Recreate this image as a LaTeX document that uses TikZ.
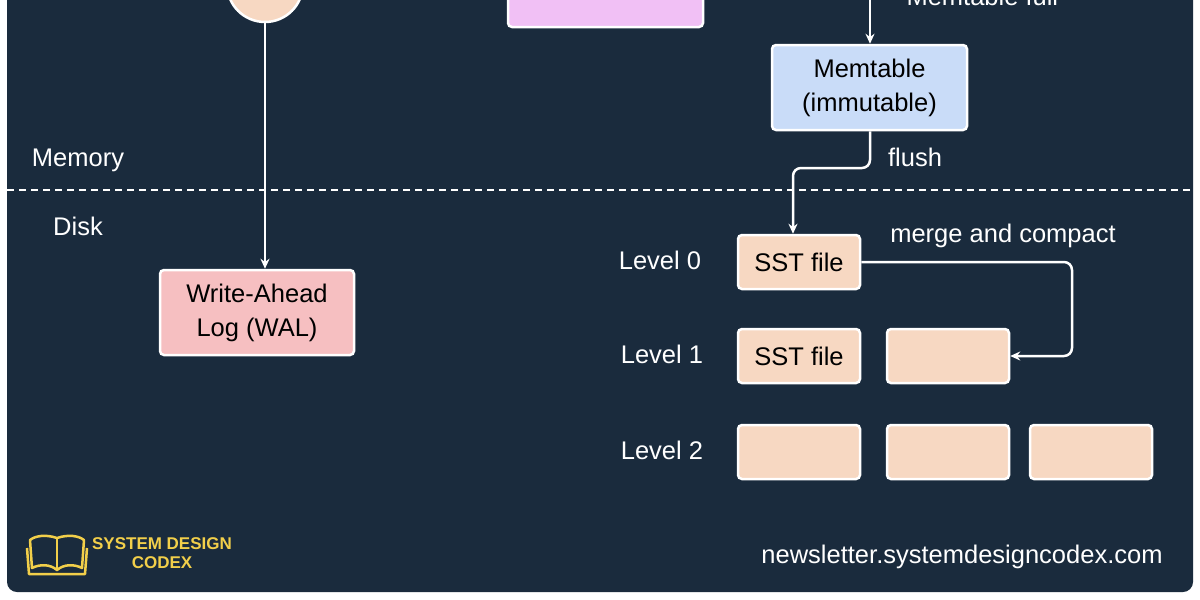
\documentclass[tikz,border=0pt]{standalone}
\usepackage{fontspec}
\setmainfont{Liberation Sans}
\usetikzlibrary{arrows.meta}
\definecolor{bg}{HTML}{1A2B3D}
\definecolor{peach}{HTML}{F7D8C2}
\definecolor{blu}{HTML}{C9DCF8}
\definecolor{pnk}{HTML}{F6BFC1}
\definecolor{vio}{HTML}{F1C0F5}
\definecolor{gold}{HTML}{F2CF4A}
\begin{document}
\begin{tikzpicture}[x=1pt,y=-1pt,
  box/.style={draw=white,line width=2.5pt,rounded corners=4pt,inner sep=0pt,text=black},
  lbl/.style={text=white,font=\fontsize{25.5}{30}\selectfont},
  arr/.style={draw=white,line width=2.5pt,-{Stealth[length=10pt,width=9pt]},rounded corners=8pt}]
\useasboundingbox (0,0) rectangle (1200,600);
\fill[white] (0,0) rectangle (1200,600);
\fill[bg,rounded corners=10pt] (7,-20) rectangle (1193,592);
\fill[bg] (7,-20) rectangle (1193,20);
\node[box,circle,fill=peach,minimum size=76pt] (c) at (265,-16) {};
\node[box,fill=vio,minimum width=195pt,minimum height=60pt] (v) at (605.5,-3) {};
\node[box,fill=blu,minimum width=195pt,minimum height=85pt,align=center,font=\fontsize{25.5}{34}\selectfont] (mt) at (869.5,87.5) {Memtable\\(immutable)};
\coordinate (top) at (870,-5);
\draw[arr] (top) -- (mt.north -| top);
\node[lbl,anchor=west] at (903,-4) {Memtable full};
\node[box,fill=pnk,minimum width=194pt,minimum height=85pt,align=center,font=\fontsize{25.5}{34}\selectfont] (wal) at (257,312.5) {Write-Ahead\\Log (WAL)};
\draw[arr] (c.south) -- (c.south |- wal.north);
\tikzset{sst/.style={box,fill=peach,minimum width=122pt,minimum height=54pt,font=\fontsize{25.5}{30}\selectfont}}
\node[sst] (s0) at (799,262) {SST file};
\node[sst] (s1) at (799,356) {SST file};
\node[sst] (s1b) at (948,356) {};
\node[sst] (s2a) at (799,452) {};
\node[sst] (s2b) at (948,452) {};
\node[sst] (s2c) at (1091,452) {};
\draw[arr] (mt.south -| top) -- (870,168) -- (793,168) -- (s0.north -| 793,0);
\node[lbl] at (915,157) {flush};
\draw[arr] (s0.east) -- (1072,262) -- (1072,356) -- (s1b.east);
\node[lbl] at (1003,236) {merge and compact};
\draw[white,line width=2.5pt,dash pattern=on 7pt off 5pt] (7,190) -- (1193,190);
\node[lbl] at (78,160) {Memory};
\node[lbl] at (78,226) {Disk};
\node[lbl] at (660,260) {Level 0};
\node[lbl] at (662,354) {Level 1};
\node[lbl] at (662,450) {Level 2};
\node[lbl] at (962,557) {newsletter.systemdesigncodex.com};
% logo
\begin{scope}[draw=gold,line width=2.5pt,line join=round]
\draw (57,538) .. controls (45,534) and (35,536) .. (30,540) -- (32,568) .. controls (40,564) and (50,564) .. (57,570) .. controls (64,564) and (74,564) .. (82,568) -- (84,540) .. controls (79,536) and (69,534) .. (57,538) -- cycle;
\draw (57,538) -- (57,570);
\draw (27,548) -- (29,574) -- (85,574) -- (87,548);
\end{scope}
\node[text=gold,font=\bfseries\fontsize{17}{19}\selectfont,align=center] at (162,553) {SYSTEM DESIGN\\CODEX};
\end{tikzpicture}
\end{document}
